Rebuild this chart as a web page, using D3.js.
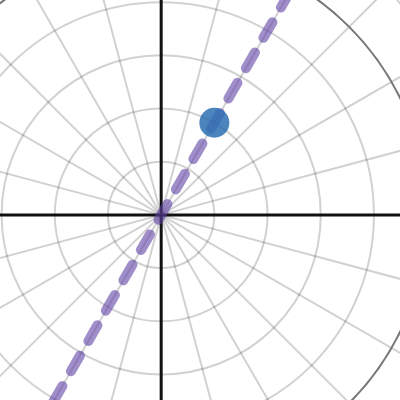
<!DOCTYPE html>
<html>
  <head>
    <meta charset="UTF-8" />
    <script src="https://d3js.org/d3.v7.min.js"></script>
    <style>
      body { margin: 0; }
    </style>
  </head>
  <body>
    <div id="main"></div>
    <script type="text/javascript">
      const width = 400;
      const height = 400;

      const gridRadii = [1, 2, 3, 4, 5, 6, 7, 8];
      const spokeAngles = d3.range(0, 360, 15);
      const curveRadius = [5];
      const lineAngle = [60];
      const points = [{ r: 2, theta: 60 }];

      const x = d3.scaleLinear().domain([-3.03, 4.49]).range([0, width]);
      const y = d3.scaleLinear().domain([-3.48, 4.04]).range([height, 0]);
      const unit = x(1) - x(0);

      const svg = d3
        .select('div#main')
        .append('svg')
        .attr('width', width)
        .attr('height', height);

      const rad = (d) => (d * Math.PI) / 180;

      // polar grid
      svg
        .selectAll('circle.grid')
        .data(gridRadii)
        .join('circle')
        .attr('class', 'grid')
        .attr('cx', x(0))
        .attr('cy', y(0))
        .attr('r', (d) => d * unit)
        .attr('fill', 'none')
        .attr('stroke', '#000')
        .attr('stroke-opacity', 0.18)
        .attr('stroke-width', 2);

      svg
        .selectAll('line.spoke')
        .data(spokeAngles)
        .join('line')
        .attr('x1', x(0))
        .attr('y1', y(0))
        .attr('x2', (d) => x(20 * Math.cos(rad(d))))
        .attr('y2', (d) => y(20 * Math.sin(rad(d))))
        .attr('stroke', '#000')
        .attr('stroke-opacity', 0.18)
        .attr('stroke-width', 2);

      // axes
      svg.append('line')
        .attr('x1', 0).attr('x2', width)
        .attr('y1', y(0)).attr('y2', y(0))
        .attr('stroke', '#111').attr('stroke-width', 3);
      svg.append('line')
        .attr('x1', x(0)).attr('x2', x(0))
        .attr('y1', 0).attr('y2', height)
        .attr('stroke', '#111').attr('stroke-width', 3);

      // r = 5 curve
      svg
        .selectAll('circle.curve')
        .data(curveRadius)
        .join('circle')
        .attr('class', 'curve')
        .attr('cx', x(0))
        .attr('cy', y(0))
        .attr('r', (d) => d * unit)
        .attr('fill', 'none')
        .attr('stroke', '#777')
        .attr('stroke-width', 2);

      // dashed line through origin
      svg
        .selectAll('line.theta')
        .data(lineAngle)
        .join('line')
        .attr('x1', (d) => x(-8 * Math.cos(rad(d))))
        .attr('y1', (d) => y(-8 * Math.sin(rad(d))))
        .attr('x2', (d) => x(8 * Math.cos(rad(d))))
        .attr('y2', (d) => y(8 * Math.sin(rad(d))))
        .attr('stroke', '#6042a6')
        .attr('stroke-opacity', 0.6)
        .attr('stroke-width', 10)
        .attr('stroke-linecap', 'round')
        .attr('stroke-dasharray', '18 17');

      // point
      svg
        .selectAll('circle.pt')
        .data(points)
        .join('circle')
        .attr('class', 'pt')
        .attr('cx', (d) => x(d.r * Math.cos(rad(d.theta))))
        .attr('cy', (d) => y(d.r * Math.sin(rad(d.theta))))
        .attr('r', 15)
        .attr('fill', '#2d70b3')
        .attr('fill-opacity', 0.85);
    </script>
  </body>
</html>
